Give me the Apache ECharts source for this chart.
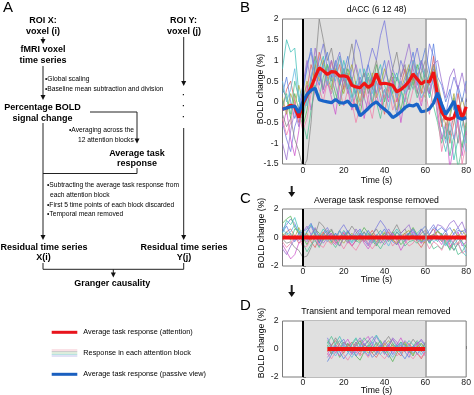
<!DOCTYPE html>
<html><head><meta charset="utf-8">
<script src="https://cdn.jsdelivr.net/npm/echarts@6/dist/echarts.min.js"></script>
<style>html,body{margin:0;padding:0;background:#fff}#c{width:474px;height:395px}</style>
</head><body><div id="c"></div>
<script>
const FONT = '"Liberation Sans", Arial, sans-serif';

// ---- data ----
const timeB = [-10,-8,-6,-4,-2,0,2,4,6,8,10,12,14,16,18,20,22,24,26,28,30,32,34,36,38,40,42,44,46,48,50,52,54,56,58,60,62,64,66,68,70,72,74,76,78,80];
const timeD = [12,14,16,18,20,22,24,26,28,30,32,34,36,38,40,42,44,46,48,50,52,54,56,58,60];
const xTicks = [0,20,40,60,80];
const blockColors = ['#7777dd','#55b055','#e06060','#40c0b8','#cc55cc','#888888','#a8a840','#5a7fe0','#50c090','#f080a8','#9a70d0','#60b8e0'];

const redB = [-0.18,-0.15,-0.08,-0.12,-0.38,-0.05,0.15,0.35,0.6,0.82,0.75,0.66,0.73,0.72,0.62,0.63,0.6,0.4,0.36,0.34,0.45,0.35,0.42,0.68,0.43,0.45,0.43,0.4,0.24,0.3,0.38,0.5,0.67,0.55,0.43,0.5,0.48,0.72,0.15,-0.25,-0.4,-0.42,-0.38,-0.08,-0.4,-0.12];
const blueB = [-0.18,-0.15,-0.12,-0.1,-0.26,0.0,0.18,0.28,0.33,0.05,0.02,0.0,-0.02,0.06,-0.02,-0.03,0.02,-0.1,-0.08,-0.34,-0.25,-0.16,-0.06,0.0,-0.1,-0.18,-0.26,-0.38,-0.32,-0.24,-0.14,-0.08,-0.1,-0.05,-0.24,-0.22,-0.17,-0.03,0.22,-0.06,-0.3,-0.15,0.02,-0.38,-0.42,-0.38];

const blocksB = [
 [-0.5,-0.9,-1.2,-0.6,-0.3,0.2,0.9,1.2,0.6,1.0,1.4,0.8,0.5,0.9,1.2,0.7,0.3,0.8,1.5,1.2,0.6,0.9,1.3,1.0,1.6,1.96,1.3,0.8,0.5,1.0,0.7,0.3,0.9,1.3,0.8,0.6,1.4,1.1,0.4,0.0,-0.3,0.2,0.6,0.3,-0.4,0.1],
 [0.3,0.1,-0.4,0.2,-0.2,-0.6,-0.2,0.5,1.1,0.7,0.3,0.9,0.6,0.2,-0.1,0.4,0.8,0.5,0.1,-0.3,0.2,0.6,0.3,0.9,0.5,0.0,0.4,0.7,0.2,-0.2,0.3,0.8,0.5,0.9,0.6,0.2,0.5,0.9,0.3,-0.5,-0.9,-0.4,0.1,-0.6,-1.1,-0.5],
 [-0.2,0.3,0.5,0.0,-0.5,-0.3,0.3,0.9,0.5,1.2,0.8,0.4,1.0,0.6,0.9,0.3,0.7,0.2,-0.2,0.4,0.1,0.6,-0.1,0.5,0.2,-0.3,0.3,0.6,0.0,0.4,0.8,0.3,1.0,0.6,0.2,0.7,0.4,1.1,0.0,-0.6,-0.2,-1.0,-0.5,0.2,-0.3,-0.8],
 [0.8,1.5,1.2,1.3,0.2,-0.4,0.1,0.6,0.3,0.8,1.1,0.5,0.2,0.7,0.4,1.0,0.6,0.1,0.5,0.2,0.8,0.4,0.0,0.6,0.9,0.4,0.1,0.5,0.7,0.3,0.0,0.6,0.3,0.8,1.0,0.5,0.1,0.6,-0.4,-0.8,-1.2,-0.7,-1.4,-0.9,-0.3,-1.0],
 [-0.6,-0.2,-0.9,-1.3,-0.7,0.1,0.4,-0.2,0.3,0.7,0.2,0.5,0.1,-0.3,0.4,0.8,0.3,-0.2,0.2,0.5,-0.4,0.1,0.6,0.2,-0.2,0.3,0.0,0.5,0.2,-0.5,0.1,0.4,0.7,0.3,-0.1,0.4,0.2,0.6,-0.2,-0.9,-0.5,-1.6,-1.0,-0.4,-1.3,-0.7],
 [-0.3,-0.6,-0.4,-0.9,-1.2,-1.6,-1.4,-0.5,0.8,2.0,1.5,1.0,1.3,0.7,1.1,0.5,0.9,1.4,0.8,0.4,0.7,0.2,0.6,1.0,0.5,0.1,0.4,0.8,1.2,0.6,0.9,0.3,0.6,0.2,0.7,1.0,0.5,0.8,0.2,-0.5,-0.2,-0.8,-0.3,-1.0,-0.6,-0.2],
 [0.1,-0.3,0.2,-0.1,0.4,0.0,0.5,0.2,0.9,0.5,1.0,0.6,0.3,0.8,0.5,0.2,0.6,0.9,0.4,0.0,0.5,0.3,0.7,0.1,0.4,0.8,0.5,0.2,-0.2,0.3,0.6,0.9,0.4,0.7,0.3,0.1,0.6,0.9,0.5,0.0,-0.6,-0.3,0.2,-0.4,0.1,-0.3],
 [0.2,0.6,0.0,-0.4,-0.1,0.3,0.8,1.3,0.7,0.4,0.9,1.2,0.6,1.0,0.4,0.7,1.1,0.5,0.2,0.6,0.3,0.9,0.5,0.2,0.6,1.0,0.4,0.1,-0.3,0.2,0.5,0.8,1.2,0.6,0.9,1.3,0.7,1.4,0.6,0.4,0.0,0.3,-0.2,0.4,0.0,0.5],
 [-0.1,0.2,-0.3,0.5,0.1,-0.5,-0.9,-0.2,0.4,0.1,0.6,0.9,0.4,0.0,0.5,0.8,0.3,0.6,0.2,-0.1,0.3,0.7,0.4,0.0,-0.4,0.1,0.5,0.2,0.6,0.3,-0.2,0.2,0.5,0.1,0.4,0.8,0.3,-0.1,-0.5,-1.0,-0.6,-1.3,-0.8,-1.6,-1.1,-0.6],
 [-0.4,-0.8,-0.5,0.0,-0.3,-0.7,-0.4,0.2,0.6,0.3,0.0,0.5,0.2,0.7,0.3,-0.1,0.3,0.0,-0.5,-0.1,0.4,0.0,-0.4,0.2,0.5,0.1,0.4,-0.2,0.1,0.5,0.2,-0.1,0.3,0.6,0.0,0.3,-0.3,0.4,-0.3,-1.2,-0.7,-0.3,-0.9,-0.5,-1.5,-1.0],
 [-1.0,-1.4,-0.7,-0.2,-0.6,0.4,1.0,0.5,1.3,0.8,0.3,0.7,1.0,0.4,0.0,0.6,0.2,0.5,0.9,0.5,0.1,-0.2,0.3,0.7,0.3,0.6,1.0,0.5,0.2,0.6,1.0,1.4,0.8,0.4,1.0,0.7,0.2,0.9,1.0,0.5,0.1,0.6,0.8,0.3,0.7,0.2],
 [0.5,0.0,0.3,0.8,0.0,0.4,-0.1,0.6,1.0,0.6,0.9,0.4,0.8,0.5,1.1,0.7,0.4,0.0,0.4,0.8,0.3,0.6,0.2,0.5,0.0,0.3,-0.2,0.4,0.1,0.5,0.2,0.6,1.0,0.5,0.1,0.3,0.7,0.4,0.0,-0.4,-1.0,-0.5,-0.9,-0.2,-0.7,-1.2]
];

const redC = [0,0,0,0,0,0,0,0,0,0,0,0,0,0,0,0,0,0,0,0,0,0,0,0,0,0,0,0,0,0,0,0,0,0,0,0,0,0,0,0,0,0,0,0,0,0];
const blocksC = [
 [0.6,0.9,1.3,1.0,0.2,-0.3,0.4,0.8,0.2,-0.4,0.3,0.7,0.1,-0.2,0.5,0.9,0.4,-0.1,0.3,0.6,0.0,-0.5,0.2,0.7,1.2,0.8,0.3,-0.2,0.4,0.1,-0.3,0.3,0.6,0.1,-0.4,0.2,0.5,0.9,0.4,0.1,0.5,-0.2,0.3,0.7,0.2,0.5],
 [1.0,1.3,1.5,0.7,0.3,0.0,-0.5,0.1,0.6,0.3,-0.2,0.2,0.5,-0.1,-0.6,0.0,0.4,0.1,-0.3,0.2,0.7,0.3,-0.2,-0.6,-0.1,0.3,-0.2,0.4,0.0,-0.5,-0.2,0.3,0.7,0.2,-0.3,0.1,-0.4,0.0,0.5,0.2,-0.4,-0.8,-0.3,0.2,-0.3,-0.7],
 [-0.2,0.4,0.6,0.1,-0.4,-0.2,0.2,-0.3,-0.7,0.0,0.4,-0.1,0.3,-0.4,-0.1,0.3,-0.2,-0.6,-0.2,0.2,-0.3,0.1,0.5,0.0,-0.4,0.1,0.4,-0.1,-0.5,-0.1,0.3,-0.2,0.2,-0.3,-0.7,-0.2,0.2,0.6,0.1,-0.3,0.2,-0.5,-0.9,-0.4,0.1,-0.2],
 [0.3,1.2,0.9,1.4,0.5,-0.1,0.4,0.9,0.5,0.1,0.6,0.2,-0.3,0.3,0.0,0.5,0.1,-0.3,0.2,-0.2,0.4,0.0,-0.4,0.1,0.5,0.1,-0.3,0.2,0.6,0.2,-0.2,0.3,-0.1,0.3,0.6,0.1,-0.4,0.1,-0.3,0.3,-0.5,-0.2,-0.9,-0.4,-1.0,-1.3],
 [-0.5,-1.0,-1.5,-1.2,-0.4,0.0,-0.3,0.2,-0.2,-0.6,-0.1,0.3,-0.2,-0.5,0.0,0.4,-0.1,-0.6,-0.2,0.1,-0.4,-0.8,-0.3,0.2,-0.2,-0.5,-0.1,0.3,-0.2,-0.9,-0.4,0.0,0.4,0.0,-0.4,0.0,-0.3,0.2,-0.1,-0.5,0.1,-0.7,-0.2,0.4,-0.6,-0.3],
 [-0.1,-0.4,-0.3,-0.7,-0.9,-1.4,-1.3,-0.7,0.2,1.1,0.8,0.3,0.6,0.0,0.5,-0.1,0.3,0.8,0.4,0.0,0.4,-0.2,0.2,0.6,0.1,-0.3,0.0,0.4,0.9,0.3,0.6,0.0,0.2,-0.2,0.3,0.5,0.1,0.2,0.1,-0.2,0.3,-0.3,0.1,-0.5,-0.2,0.2],
 [0.3,-0.1,0.3,0.0,0.7,0.1,0.3,-0.2,0.3,-0.3,0.3,-0.1,-0.4,0.1,-0.1,-0.4,0.0,0.3,0.0,-0.3,0.1,-0.1,0.3,-0.3,0.0,0.4,0.0,-0.2,-0.4,0.1,0.3,0.5,-0.1,0.1,-0.2,-0.4,0.1,0.2,0.4,0.2,-0.2,0.1,0.6,0.0,0.5,0.1],
 [0.4,0.8,0.2,-0.3,0.3,0.4,0.6,1.0,0.2,-0.4,0.2,0.5,-0.1,0.3,-0.2,0.1,0.5,0.0,-0.2,0.3,0.0,0.5,0.0,-0.5,0.2,0.6,0.0,-0.3,-0.5,-0.1,0.1,0.3,0.5,0.1,0.5,0.8,0.2,0.7,0.5,0.7,0.4,0.7,0.2,0.5,0.4,0.6],
 [0.1,0.4,-0.2,0.6,0.5,-0.4,-1.0,-0.5,-0.2,-0.7,-0.1,0.2,-0.3,-0.7,-0.2,0.2,-0.3,0.2,-0.2,-0.4,0.0,0.3,0.0,-0.4,-0.8,-0.3,0.1,-0.2,0.4,0.0,-0.6,-0.3,-0.2,-0.4,0.0,0.3,-0.2,-0.8,-0.6,-0.8,-0.2,-0.9,-0.4,-1.2,-1.0,-0.5],
 [-0.3,-0.7,-0.4,0.1,0.1,-0.7,-0.6,0.0,0.0,-0.5,-0.7,-0.2,-0.5,0.0,-0.3,-0.8,-0.3,-0.6,-0.9,-0.4,0.1,-0.4,-0.8,-0.4,0.1,-0.3,0.0,-0.6,-0.2,0.2,-0.2,-0.6,-0.4,0.1,-0.4,-0.2,-0.8,-0.3,-0.5,-0.9,-0.3,0.1,-0.5,-0.4,-1.1,-0.9],
 [-0.8,-1.2,-0.6,-0.1,-0.2,0.4,0.8,0.2,0.7,0.0,-0.4,0.0,0.3,-0.3,-0.6,0.0,-0.4,0.0,0.6,0.2,-0.2,-0.6,-0.1,0.0,-0.1,0.1,0.6,0.1,0.0,0.3,0.6,0.9,0.1,-0.2,0.6,0.2,-0.3,0.2,0.9,0.8,0.5,1.0,1.2,0.7,1.1,0.3],
 [0.7,0.2,0.4,0.9,0.4,0.5,-0.2,0.2,0.4,-0.2,0.2,-0.3,0.1,-0.2,0.5,0.1,0.0,-0.4,0.0,0.5,0.0,0.2,-0.1,0.2,-0.4,-0.1,-0.6,0.0,-0.1,0.2,-0.2,0.1,0.3,-0.1,-0.3,-0.2,0.2,-0.3,-0.1,-0.2,-0.6,-0.1,-0.5,-0.1,-0.3,-1.1]
];

const redD = [0,0,0,0,0,0,0,0,0,0,0,0,0,0,0,0,0,0,0,0,0,0,0,0,0];
const blocksD = [
 [0.8,0.2,-0.3,0.4,0.7,0.1,-0.4,0.2,0.6,-0.1,-0.5,0.3,0.9,0.4,-0.2,0.3,-0.4,0.2,0.5,-0.2,-0.6,0.1,0.4,0.6,0.2],
 [0.3,-0.4,0.1,-0.6,-0.2,0.4,0.0,-0.5,-0.8,-0.2,0.3,-0.3,0.2,0.6,0.1,-0.4,-0.9,-0.3,0.1,0.4,-0.1,-0.5,0.2,-0.2,0.5],
 [-0.2,0.3,0.6,0.1,-0.3,0.2,0.5,0.0,-0.4,0.3,0.1,-0.3,-0.6,-0.1,0.4,0.0,0.3,-0.2,-0.5,0.1,0.4,0.0,-0.3,-0.7,-0.2],
 [0.5,0.0,0.4,0.9,0.3,-0.2,0.4,0.8,0.2,-0.3,0.1,0.6,1.0,0.5,0.0,0.4,0.7,0.1,-0.3,0.2,0.6,0.3,-0.1,0.4,0.1],
 [-0.4,0.2,-0.1,-0.5,0.3,0.7,0.1,-0.3,0.2,0.6,0.9,0.3,-0.2,0.1,-0.4,0.2,0.7,0.3,0.8,0.2,-0.3,0.1,0.5,-0.1,-0.5],
 [0.6,0.2,0.8,0.3,-0.1,0.4,0.0,0.5,-0.2,0.2,0.6,0.1,-0.4,0.2,0.5,0.9,0.4,0.0,0.3,-0.2,0.2,0.7,0.3,0.0,0.4],
 [0.1,-0.3,0.3,0.0,0.5,0.2,-0.2,0.3,0.6,0.1,-0.3,0.0,0.4,-0.1,0.3,0.6,0.2,-0.2,0.1,0.5,0.0,-0.4,0.2,0.4,-0.1],
 [-0.9,-0.4,0.2,-0.2,-0.7,-0.3,0.1,-0.5,-0.1,0.4,0.0,-0.6,-0.3,0.3,-0.2,-0.6,-0.1,0.3,-0.3,-0.7,-0.2,0.2,-0.4,0.1,-0.3],
 [0.4,0.9,0.3,0.6,0.1,-0.2,0.3,0.7,0.3,0.8,0.4,0.0,0.5,0.2,-0.3,-0.1,0.4,0.0,0.5,0.3,-0.2,0.2,0.6,0.2,-0.1],
 [-0.3,-0.7,-0.2,0.1,-0.4,-0.8,-0.3,0.0,-0.5,-0.2,-0.6,-0.1,0.2,-0.4,-0.7,-0.3,0.0,-0.5,-0.2,0.1,-0.4,-0.7,-0.3,-0.6,-0.2],
 [-0.6,-0.2,0.3,-0.1,0.5,0.1,-0.3,0.4,0.8,0.3,0.6,0.9,0.4,0.0,0.6,0.2,0.8,0.5,0.1,0.6,0.3,-0.1,0.3,0.7,0.3],
 [0.2,-0.1,-0.5,0.0,0.4,-0.2,-0.6,-0.1,0.3,-0.3,0.2,0.5,0.0,-0.4,0.1,-0.2,-0.6,-0.1,0.4,0.0,0.3,-0.3,0.1,-0.4,0.0]
];

// ---- chart ----
const chart = echarts.init(document.getElementById('c'), null, {renderer:'canvas'});
const LBL = {fontSize:8.7, fontFamily:FONT, color:'#1a1a1a'};
const AXC = '#7a7a7a';

function xAx(gi, margin){
  return {type:'value', gridIndex:gi, min:-10, max:80,
    axisLine:{show:false}, splitLine:{show:false},
    axisTick:{show:true, inside:true, length:3, customValues:xTicks, lineStyle:{color:AXC}},
    axisLabel:Object.assign({customValues:xTicks, margin:margin}, LBL)};
}
function yAx(gi, min, max, interval){
  return {type:'value', gridIndex:gi, min, max, interval,
    axisLine:{show:false}, splitLine:{show:false},
    axisTick:{show:true, inside:true, length:3, lineStyle:{color:AXC}},
    axisLabel:Object.assign({margin:4}, LBL)};
}
function ls(gi, xs, ys, color, width, z, opacity){
  return {type:'line', xAxisIndex:gi, yAxisIndex:gi, data:xs.map((x,i)=>[x, ys[i]]),
    showSymbol:false, symbol:'none', silent:true, animation:false, clip:true, z:z,
    lineStyle:{color, width, opacity:opacity==null?1:opacity}, itemStyle:{color}};
}
function decor(gi){
  return [
    {type:'line', xAxisIndex:gi, yAxisIndex:gi, data:[[0,0]], symbol:'none', showSymbol:false, silent:true, z:1,
      lineStyle:{width:0, opacity:0},
      markArea:{silent:true, animation:false, itemStyle:{color:'#e0e0e0'}, data:[[{xAxis:0},{xAxis:60}]]}},
    {type:'line', xAxisIndex:gi, yAxisIndex:gi, data:[[0,0]], symbol:'none', showSymbol:false, silent:true, z:3,
      lineStyle:{width:0, opacity:0},
      markLine:{silent:true, animation:false, symbol:['none','none'], label:{show:false},
        lineStyle:{type:'solid'},
        data:[{xAxis:0, lineStyle:{color:'#000', width:2, type:'solid'}},
              {xAxis:60, lineStyle:{color:'#9a9a9a', width:1.5, type:'solid'}}]}}
  ];
}

const series = [];
series.push(...decor(0), ...decor(1), ...decor(2));
blocksB.forEach((b,i)=>series.push(ls(0, timeB, b, blockColors[i], 0.9, 2, 0.85)));
series.push(ls(0, timeB, redB, '#f01414', 3.2, 4));
series.push(ls(0, timeB, blueB, '#1a64c8', 3.2, 4));
blocksC.forEach((b,i)=>series.push(ls(1, timeB, b, blockColors[i], 0.9, 2, 0.85)));
series.push(ls(1, timeB, redC, '#f01414', 3.8, 4));
blocksD.forEach((b,i)=>series.push(ls(2, timeD, b, blockColors[i], 0.9, 2, 0.85)));
series.push(ls(2, timeD, redD, '#f01414', 3.8, 4));

// ---- graphics (flowchart, labels) ----
const G = [];
function txt(x,y,s,size,bold,align,rot){
  G.push({type:'text', x, y, rotation:rot||0, silent:true, z:10,
    style:{text:s, fontSize:size, fontWeight:bold?'bold':'normal', fontFamily:FONT, fill:'#000',
      align:align||'center', verticalAlign:'middle'}});
}
function ln(x1,y1,x2,y2,w,c,op){
  G.push({type:'line', silent:true, z:10, shape:{x1,y1,x2,y2}, style:{stroke:c||'#222', lineWidth:w||1, opacity:op==null?1:op}});
}
function arrow(x,y1,y2,w,hw,hh){
  ln(x,y1,x,y2-hh+1,w);
  G.push({type:'polygon', silent:true, z:10, shape:{points:[[x-hw,y2-hh],[x+hw,y2-hh],[x,y2]]}, style:{fill:'#111'}});
}

// panel letters
txt(3,7.5,'A',15,false,'left');
txt(240,7.5,'B',15,false,'left');
txt(240,199,'C',15,false,'left');
txt(240,306,'D',15,false,'left');
arrow(291.7,186,197,2,3.5,5);
arrow(291.7,285,297,2,3.5,5);

// panel titles & axis names
txt(376.5,10,'dACC (6 12 48)',8.6);
txt(376.5,200.7,'Average task response removed',8.7);
txt(376,311.7,'Transient and temporal mean removed',8.7);
txt(376.5,180.5,'Time (s)',8.7);
txt(376.5,279.5,'Time (s)',8.7);
txt(376.5,391,'Time (s)',8.7);
txt(260.5,89,'BOLD change (%)',8.7,false,'center',Math.PI/2);
txt(261.5,233,'BOLD change (%)',8.7,false,'center',Math.PI/2);
txt(261.5,343,'BOLD change (%)',8.7,false,'center',Math.PI/2);

// flowchart left column
txt(43,21,'ROI X:',9,true);
txt(43,32,'voxel (i)',9,true);
arrow(43,37,44,1,2.5,5);
txt(43,50,'fMRI voxel',9,true);
txt(43,61,'time series',9,true);
arrow(43,66,100,1,2.5,5);
txt(45,79,'•Global scaling',6.7,false,'left');
txt(45,89,'•Baseline mean subtraction and division',6.7,false,'left');
txt(42.5,108,'Percentage BOLD',9,true);
txt(42.5,118.5,'signal change',9,true);
ln(90,112,137,112,1);
arrow(137,112,143.5,1,2.5,5);
txt(69,130,'•Averaging across the',6.7,false,'left');
txt(78,140,'12 attention blocks',6.7,false,'left');
txt(137,153.3,'Average task',9,true);
txt(137,164,'response',9,true);
ln(137,168,137,173.5,1);
ln(43,173.5,137,173.5,1);
arrow(43,123,240,1,2.5,5);
txt(47,185,'•Subtracting the average task response from',6.7,false,'left');
txt(50,195,'each attention block',6.7,false,'left');
txt(47,205,'•First 5 time points of each block discarded',6.7,false,'left');
txt(47,214.3,'•Temporal mean removed',6.7,false,'left');
txt(44,247.3,'Residual time series',9,true);
txt(43.5,257.8,'X(i)',9,true);

// flowchart right column
txt(183.5,21,'ROI Y:',9,true);
txt(184,32,'voxel (j)',9,true);
arrow(183.7,37,86,1,2.5,5);
txt(183.7,95,'·',8,true);
txt(183.7,106,'·',8,true);
txt(183.7,117,'·',8,true);
arrow(183.7,128,240,1,2.5,5);
txt(184,247.3,'Residual time series',9,true);
txt(184,257.8,'Y(j)',9,true);

// bracket to Granger
ln(43,263,43,269.3,1);
ln(183.7,263,183.7,269.3,1);
ln(43,269.3,183.7,269.3,1);
arrow(113.3,269.3,277.5,1,2.5,5);
txt(112.3,284,'Granger causality',9,true);

// legend
ln(51.7,332.3,77.3,332.3,3,'#e8141c');
txt(83.3,332.3,'Average task response (attention)',7.3,false,'left');
['#f0a0b0','#b0b0b0','#90c890','#90d0d0','#a0a0e0'].forEach((c,i)=>ln(51.7,350+i*1.5,77.3,350+i*1.5,0.7,c,0.9));
txt(83.3,353,'Response in each attention block',7.3,false,'left');
ln(51.7,374.3,77.3,374.3,3,'#1a5fbf');
txt(83.3,374.3,'Average task response (passive view)',7.3,false,'left');

chart.setOption({
  animation:false,
  backgroundColor:'#fff',
  grid:[
    {left:282.5, top:19, width:187.5, height:145, show:true, backgroundColor:'#fff', borderColor:AXC, borderWidth:1},
    {left:282.5, top:209, width:187.5, height:57, show:true, backgroundColor:'#fff', borderColor:AXC, borderWidth:1},
    {left:282.5, top:321, width:187.5, height:56, show:true, backgroundColor:'#fff', borderColor:AXC, borderWidth:1}
  ],
  xAxis:[xAx(0,2), xAx(1,1.5), xAx(2,1)],
  yAxis:[yAx(0,-1.5,2,0.5), yAx(1,-2,2,2), yAx(2,-2,2,2)],
  series:series,
  graphic:G
});
</script>
</body></html>
